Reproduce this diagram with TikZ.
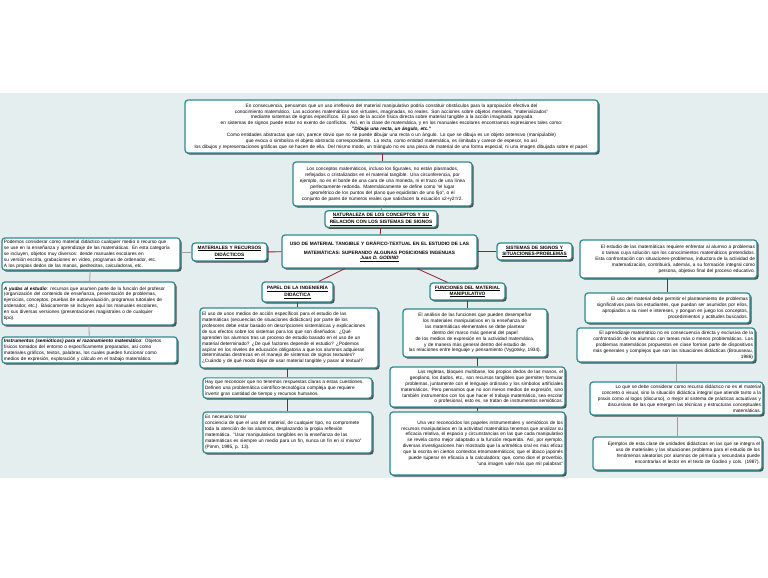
\documentclass[tikz,border=0pt]{standalone}
\usepackage{fontspec}
\setmainfont{Liberation Sans}
\usetikzlibrary{shadows}

\definecolor{fondo}{HTML}{E4EEEE}
\definecolor{borde}{HTML}{2E8A8E}
\definecolor{enlace}{HTML}{8E2233}
\definecolor{enlacegris}{HTML}{A89A9C}

\tikzset{
  caja/.style={draw=borde, line width=1.2pt, fill=white, rounded corners=3pt,
    inner sep=2pt, font=\fontsize{4.75}{5.9}\selectfont,
    drop shadow={shadow xshift=1.6pt, shadow yshift=-1.6pt, fill=black!80, opacity=0.85}},
  titulo/.style={caja, font=\fontsize{4.75}{5.9}\selectfont\bfseries, align=center},
  liga/.style={draw=enlace, line width=0.8pt},
  ligagris/.style={draw=enlacegris, line width=0.8pt},
}

\begin{document}
\begin{tikzpicture}[x=1pt, y=-1pt]
\useasboundingbox (0,0) rectangle (768,578);
\fill[fondo] (0,93) rectangle (768,478);

% centro
\node[caja, text width=409pt, minimum height=53pt, align=center] (consec) at (391.5,126.5)
  {En consecuencia, pensamos que un uso irreflexivo del material manipulativo podría constituir obstáculos para la apropiación efectiva del\\
   conocimiento matemático. Las acciones matemáticas son virtuales, imaginadas, no reales. Son acciones sobre objetos mentales, "materializados"\\
   mediante sistemas de signos específicos. El paso de la acción física directa sobre material tangible a la acción imaginada apoyada\\
   en sistemas de signos puede estar no exento de conflictos. Así, en la clase de matemática, y en los manuales escolares encontramos expresiones tales como:\\
   \textbf{\textit{"Dibuja una recta, un ángulo, etc."}}\\
   Como entidades abstractas que son, parece obvio que no se puede dibujar una recta o un ángulo. Lo que se dibuja es un objeto ostensivo (manipulable)\\
   que evoca o simboliza el objeto abstracto correspondiente. La recta, como entidad matemática, es ilimitada y carece de espesor, no así\\
   los dibujos y representaciones gráficas que se hacen de ella. Del mismo modo, un triángulo no es una pieza de material de una forma especial, ni una imagen dibujada sobre el papel.};
\node[caja, text width=175pt, minimum height=44pt, align=center] (concep) at (382.5,184)
  {Los conceptos matemáticos, incluso los figurales, no están plasmados,\\
   reflejados o cristalizados en el material tangible. Una circunferencia, por\\
   ejemplo, no es el borde de una cara de una moneda, ni el trazo de una línea\\
   perfectamente redonda. Matemáticamente se define como "el lugar\\
   geométrico de los puntos del plano que equidistan de uno fijo", o el\\
   conjunto de pares de números reales que satisfacen la ecuación x2+y2=r2.};
\node[titulo, text width=108pt, minimum height=14pt] (natur) at (381,219)
  {\underline{NATURALEZA DE LOS CONCEPTOS Y SU}\\\underline{RELACIÓN CON LOS SISTEMAS DE SIGNOS}};
\node[titulo, text width=191pt, minimum height=33pt] (uso) at (379.5,251.5)
  {USO DE MATERIAL TANGIBLE Y GRÁFICO-TEXTUAL EN EL ESTUDIO DE LAS\\[3pt]
   MATEMÁTICAS: SUPERANDO ALGUNAS POSICIONES INGENUAS\\
   \underline{\textit{Juan D. GODINO}}};

% izquierda
\node[titulo, text width=71pt, minimum height=18pt] (materiales) at (229.5,252)
  {\underline{MATERIALES Y RECURSOS}\\\underline{DIDÁCTICOS}};
\node[caja, text width=174pt, minimum height=32pt, align=left] (podemos) at (91,254)
  {Podemos considerar como material didáctico cualquier medio o recurso que\\
   se use en la enseñanza y aprendizaje de las matemáticas. En esta categoría\\
   se incluyen, objetos muy diversos: desde manuales escolares en\\
   su versión escrita, grabaciones en vídeo, programas de ordenador, etc.\\
   A los propios dedos de las manos, piedrecitas, calculadoras, etc.};
\node[caja, text width=169pt, minimum height=43pt, align=left] (ayudas) at (88.5,303.5)
  {\textbf{\textit{A yudas al estudio}}: recursos que asumen parte de la función del profesor\\
   (organización del contenido de enseñanza, presentación de problemas,\\
   ejercicios, conceptos, pruebas de autoevaluación, programas tutoriales de\\
   ordenador, etc.). Básicamente se incluyen aquí los manuales escolares,\\
   en sus diversas versiones (presentaciones magistrales o de cualquier\\
   tipo).};
\node[caja, text width=171pt, minimum height=26pt, align=left] (instrum) at (89.5,350)
  {\textbf{\textit{Instrumentos (semióticos) para el razonamiento matemático}}: Objetos\\
   físicos tomados del entorno o específicamente preparados, así como\\
   materiales gráficos, textos, palabras, los cuales pueden funcionar como\\
   medios de expresión, exploración y cálculo en el trabajo matemático.};

% ingenieria didactica
\node[titulo, text width=67pt, minimum height=20pt] (papel) at (297.5,292)
  {\underline{PAPEL DE LA INGENIERÍA}\\\underline{DIDÁCTICA}};
\node[caja, text width=174pt, minimum height=60pt, align=left] (medios) at (289,338)
  {El uso de unos medios de acción específicos para el estudio de las\\
   matemáticas (secuencias de situaciones didácticas) por parte de los\\
   profesores debe estar basado en descripciones sistemáticas y explicaciones\\
   de sus efectos sobre los sistemas para los que son diseñados. ¿Qué\\
   aprenden los alumnos tras un proceso de estudio basado en el uso de un\\
   material determinado? ¿De qué factores depende el estudio? ¿Podemos\\
   aspirar en los niveles de educación obligatoria a que los alumnos adquieran\\
   determinadas destrezas en el manejo de sistemas de signos textuales?\\
   ¿Cuándo y de qué modo dejar de usar material tangible y pasar al textual?};
\node[caja, text width=165pt, minimum height=20pt, align=left] (reconocer) at (287.5,388)
  {Hay que reconocer que no tenemos respuestas claras a estas cuestiones.\\
   Definen una problemática científico-tecnológica compleja que requiere\\
   invertir gran cantidad de tiempo y recursos humanos.};
\node[caja, text width=165pt, minimum height=41pt, align=left] (conciencia) at (287.5,432.5)
  {Es necesario tomar\\
   conciencia de que el uso del material, de cualquier tipo, no compromete\\
   toda la atención de los alumnos, desplazando la propia reflexión\\
   matemática. "Usar manipulativos tangibles en la enseñanza de las\\
   matemáticas es siempre un medio para un fin, nunca un fin en sí mismo"\\
   (Pimm, 1995, p. 13).};

% material manipulativo
\node[titulo, text width=71pt, minimum height=17pt] (funciones) at (467.5,291.5)
  {\underline{FUNCIONES DEL MATERIAL}\\\underline{MANIPULATIVO}};
\node[caja, text width=140pt, minimum height=48pt, align=center] (analisis) at (475,333)
  {El análisis de las funciones que pueden desempeñar\\
   los materiales manipulativos en la enseñanza de\\
   las matemáticas elementales se debe plantear\\
   dentro del marco más general del papel\\
   de los medios de expresión en la actividad matemática,\\
   y de manera más general dentro del estudio de\\
   las relaciones entre lenguaje y pensamiento (Vygotsky, 1934).};
\node[caja, text width=171pt, minimum height=40pt, align=right] (regletas) at (477.5,387)
  {Las regletas, bloques multibase, los propios dedos de las manos, el\\
   geoplano, los dados, etc., son recursos tangibles que permiten formular\\
   problemas, juntamente con el lenguaje ordinario y los símbolos artificiales\\
   matemáticos. Pero pensamos que no son meros medios de expresión, sino\\
   también instrumentos con los que hacer el trabajo matemático, sea escolar\\
   o profesional, esto es, se tratan de instrumentos semióticos.};
\node[caja, text width=171pt, minimum height=63pt, align=right] (unavez) at (477.5,443.5)
  {Una vez reconocidos los papeles instrumentales y semióticos de los\\
   recursos manipulativos en la actividad matemática tenemos que analizar su\\
   eficacia relativa, el espacio y circunstancias en las que cada manipulativo\\
   se revela como mejor adaptado a la función requerida. Así, por ejemplo,\\
   diversas investigaciones han mostrado que la aritmética oral es más eficaz\\
   que la escrita en ciertos contextos etnomatemáticos; que el ábaco japonés\\
   puede superar en eficacia a la calculadora; que, como dice el proverbio,\\
   "una imagen vale más que mil palabras"};

% derecha
\node[titulo, text width=71pt, minimum height=17pt] (sistemas) at (534.5,251.5)
  {\underline{SISTEMAS DE SIGNOS Y}\\\underline{SITUACIONES-PROBLEMAS}};
\node[caja, text width=173pt, minimum height=38pt, align=right] (estudio) at (668.5,259)
  {El estudio de las matemáticas requiere enfrentar al alumno a problemas\\
   o tareas cuya solución son los conocimientos matemáticos pretendidos.\\
   Esta confrontación con situaciones-problemas, inductora de la actividad de\\
   matematización, contribuirá, además, a su formación integral como\\
   persona, objetivo final del proceso educativo.};
\node[caja, text width=161pt, minimum height=30pt, align=right] (permitir) at (667.5,308)
  {El uso del material debe permitir el planteamiento de problemas\\
   significativos para los estudiantes, que puedan ser asumidos por ellos,\\
   apropiados a su nivel e intereses, y pongan en juego los conceptos,\\
   procedimientos y actitudes buscados.};
\node[caja, text width=174pt, minimum height=34pt, align=right] (aprendizaje) at (666,345)
  {El aprendizaje matemático no es consecuencia directa y exclusiva de la\\
   confrontación de los alumnos con tareas más o menos problemáticas. Los\\
   problemas matemáticos propuestos en clase forman parte de dispositivos\\
   más generales y complejos que son las situaciones didácticas (Brousseau,\\
   1986)};
\node[caja, text width=169pt, minimum height=33pt, align=right] (recurso) at (676.5,398.5)
  {Lo que se debe considerar como recurso didáctico no es el material\\
   concreto o visual, sino la situación didáctica integral que atiende tanto a la\\
   praxis como al logos (discurso), o mejor al sistema de prácticas actuativas y\\
   discursivas de las que emergen las técnicas y estructuras conceptuales\\
   matemáticas.};
\node[caja, text width=165pt, minimum height=33pt, align=right] (ejemplos) at (677.5,453.5)
  {Ejemplos de esta clase de unidades didácticas en las que se integra el\\
   uso de materiales y las situaciones problema para el estudio de los\\
   fenómenos aleatorios por alumnos de primaria y secundaria puede\\
   encontrarlas el lector en el texto de Godino y cols. (1987).};

% enlaces
\draw[liga] (consec.south -| concep.north) -- (concep.north);
\draw[ligagris] (concep) -- (natur);
\draw[liga] (natur) -- (uso);
\draw[liga] (uso) -- (materiales);
\draw[ligagris] (materiales) -- (materiales.west -| podemos.east);
\draw[ligagris] (podemos) -- (ayudas);
\draw[ligagris] (ayudas) -- (instrum);
\draw[liga] (uso) -- (papel);
\draw[liga] (papel.south) -- (papel.south |- medios.north);
\draw[liga] (medios.south -| reconocer.north) -- (reconocer.north);
\draw[liga] (reconocer) -- (conciencia);
\draw[liga] (uso) -- (funciones);
\draw[liga] (funciones.south) -- (funciones.south |- analisis.north);
\draw[liga] (analisis.south -| regletas.north) -- (regletas.north);
\draw[liga] (regletas) -- (unavez);
\draw[liga] (uso) -- (sistemas);
\draw[liga] (sistemas) -- (sistemas.east |- estudio.west);
\draw[liga] (estudio.south -| permitir.north) -- (permitir.north);
\draw[ligagris] (aprendizaje.south -| recurso.north) -- (recurso.north);
\draw[ligagris] (recurso.south -| ejemplos.north) -- (ejemplos.north);
\end{tikzpicture}
\end{document}
